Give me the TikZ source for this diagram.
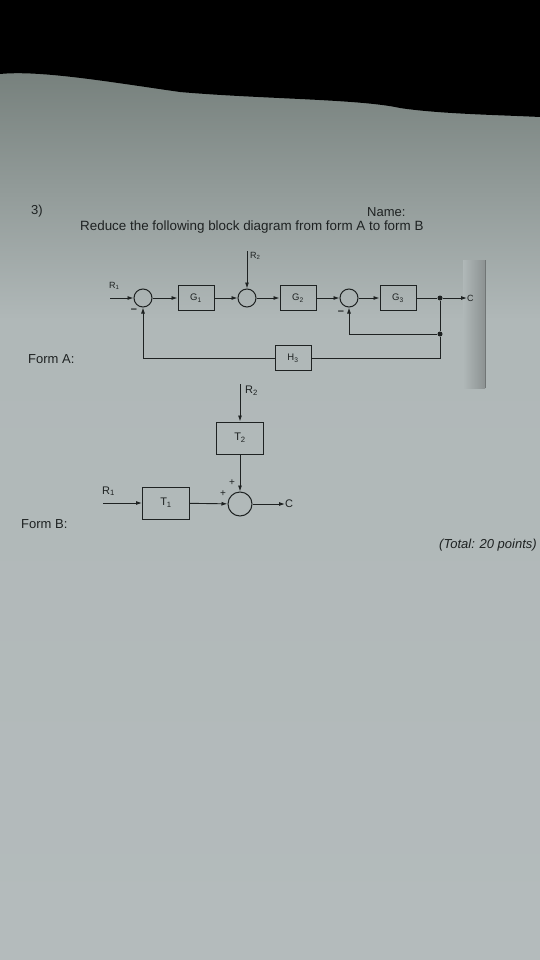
\documentclass[tikz,border=0pt]{standalone}
\usepackage{fontspec}
\setmainfont{Liberation Sans}
\usetikzlibrary{arrows.meta}

\definecolor{ink}{RGB}{30,34,34}
\definecolor{paperA}{RGB}{116,126,122}
\definecolor{paperB}{RGB}{176,184,184}
\definecolor{paperC}{RGB}{180,187,188}
\definecolor{edgeshade}{RGB}{140,146,146}

\tikzset{
  blk/.style={draw=ink, line width=1pt, minimum width=36pt, minimum height=25pt,
    inner sep=0pt, text=ink, font=\fontsize{9.5}{11}\selectfont},
  bigblk/.style={blk, minimum width=47pt, minimum height=32pt, font=\fontsize{11}{12}\selectfont},
  sumpt/.style={draw=ink, circle, line width=1pt, minimum size=18pt, inner sep=0pt},
  sig/.style={draw=ink, line width=0.9pt, -{Latex[length=6pt,width=4pt]}},
  wire/.style={draw=ink, line width=0.9pt},
  jdot/.style={circle, fill=ink, inner sep=0pt, minimum size=5pt},
  lbl/.style={text=ink, inner sep=0pt, font=\fontsize{9}{10}\selectfont},
  biglbl/.style={lbl, font=\fontsize{11}{12}\selectfont},
  txt/.style={text=ink, inner sep=0pt, anchor=west, font=\fontsize{13}{15}\selectfont}
}

\begin{document}
\begin{tikzpicture}[x=1pt, y=-1pt]
  \useasboundingbox (0,0) rectangle (540,960);
  % paper and photo edges
  \shade[top color=paperA, bottom color=paperB] (0,60) rectangle (540,320);
  \shade[top color=paperB, bottom color=paperC] (0,320) rectangle (540,960);
  \fill[black] (0,0) -- (0,74) .. controls (40,70) and (110,82) .. (180,92)
    .. controls (260,99) and (360,99) .. (400,108)
    .. controls (440,114) and (500,115) .. (540,117) -- (540,0) -- cycle;
  \shade[left color=paperB, right color=edgeshade] (463,260) rectangle (485,388);
  \draw[edgeshade!80!black, line width=0.6pt] (485,260) -- (485,388);

  % heading
  \node[txt] (num) at (31,211) {3)};
  \node[txt, font=\fontsize{13.4}{15}\selectfont] (task) at (80,227) {Reduce the following block diagram from form A to form B};
  \node[txt] (name) at (367,212) {Name:};

  % form A
  \node[txt] (formA) at (28,359) {Form A:};
  \node[sumpt] (s1) at (143,298) {};
  \node[blk] (g1) at (196,298) {G\textsubscript{1}};
  \node[sumpt] (s2) at (247,298) {};
  \node[blk] (g2) at (298,298) {G\textsubscript{2}};
  \node[sumpt] (s3) at (349,298) {};
  \node[blk] (g3) at (398,298) {G\textsubscript{3}};
  \node[jdot] (j1) at (440,298) {};
  \node[jdot] (j2) at (440,334) {};
  \node[blk] (h3) at (293,358) {H\textsubscript{3}};
  \node[lbl, anchor=west] (ca) at (467,298) {C};
  \coordinate (r1a) at (110,298);
  \coordinate (r2a) at (247,251);
  \node[lbl, anchor=south west] (r1alab) at (109,290) {R\textsubscript{1}};
  \node[lbl, anchor=west] (r2alab) at (250,256) {R\textsubscript{2}};
  \node[lbl, font=\fontsize{11}{12}\bfseries] (m1) at (134,311) {--};
  \node[lbl, font=\fontsize{11}{12}\bfseries] (m3) at (341,313) {--};

  \draw[sig] (r1a) -- (s1);
  \draw[sig] (s1) -- (g1);
  \draw[sig] (g1) -- (s2);
  \draw[sig] (r2a) -- (s2);
  \draw[sig] (s2) -- (g2);
  \draw[sig] (g2) -- (s3);
  \draw[sig] (s3) -- (g3);
  \draw[wire] (g3) -- (j1);
  \draw[sig] (j1) -- (ca);
  \draw[wire] (j1) -- (j2);
  \draw[sig] (j2) -| (s3);
  \draw[wire] (j2) |- (h3);
  \draw[sig] (h3) -| (s1);

  % form B
  \node[txt] (formB) at (21,524) {Form B:};
  \node[bigblk] (t2) at (240,438) {T\textsubscript{2}};
  \node[bigblk] (t1) at (166,503) {T\textsubscript{1}};
  \node[sumpt, minimum size=24pt] (sb) at (240,504) {};
  \node[biglbl, anchor=west] (cb) at (285,504) {C};
  \coordinate (r1b) at (103,503);
  \coordinate (r2b) at (240,384);
  \node[biglbl, anchor=south west] (r1blab) at (102,496) {R\textsubscript{1}};
  \node[biglbl, anchor=west] (r2blab) at (245,391) {R\textsubscript{2}};
  \node[lbl, font=\fontsize{10}{11}\selectfont] (p1) at (223,494) {+};
  \node[lbl, font=\fontsize{10}{11}\selectfont] (p2) at (232,483) {+};

  \draw[sig] (r1b) -- (t1);
  \draw[sig] (t1) -- (sb);
  \draw[sig] (r2b) -- (t2);
  \draw[sig] (t2) -- (sb);
  \draw[sig] (sb) -- (cb);

  \node[txt, font=\fontsize{13}{15}\selectfont\itshape] (total) at (439,545) {(Total: 20 points)};
\end{tikzpicture}
\end{document}
